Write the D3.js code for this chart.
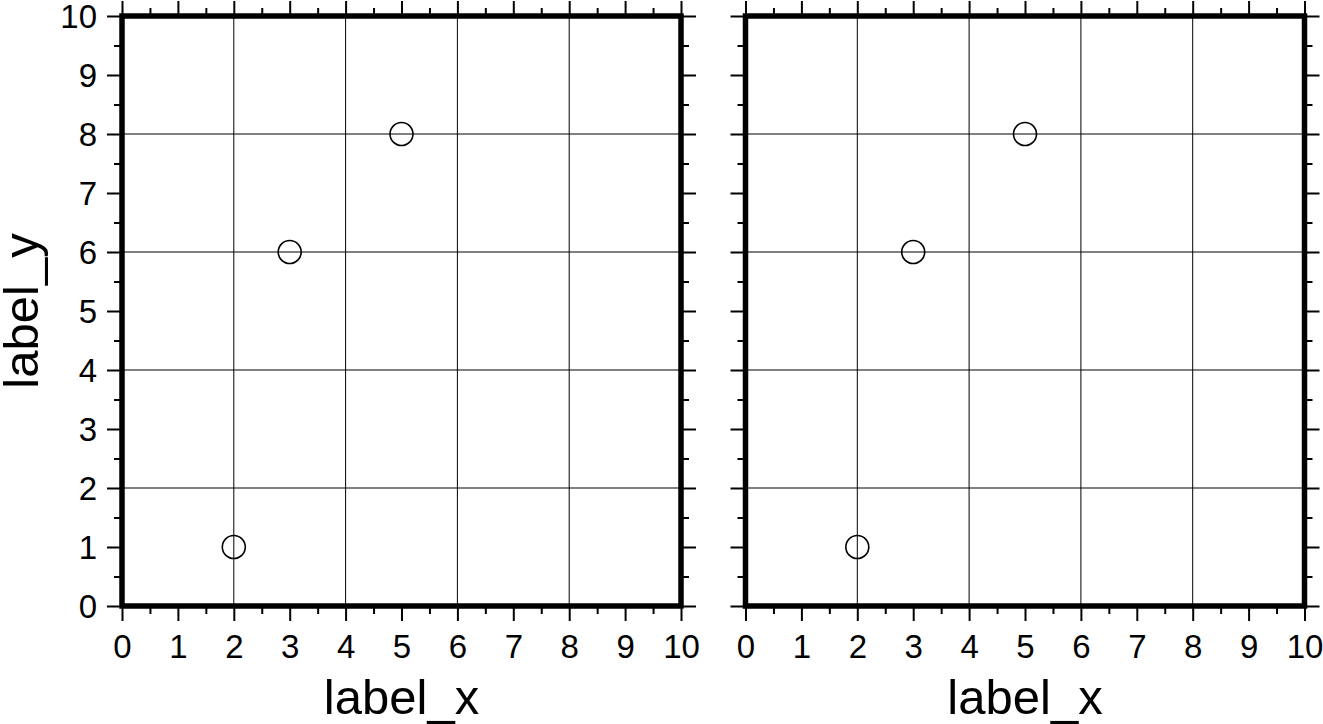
<!DOCTYPE html>
<html lang="en">
<head>
    <meta charset="UTF-8">
    <title>Subplots</title>
    <script src="https://d3js.org/d3.v7.min.js"></script>
    <style>
        body { margin: 0; background: #fff; }
        text { font-family: "Liberation Sans", Helvetica, Arial, sans-serif; fill: #000; }
    </style>
</head>
<body>
<div id="chart"></div>
<script>
    // data points (same in both panels)
    var xValues = [2, 3, 5];
    var yValues = [1, 6, 8];
    var majorTicks = [0, 1, 2, 3, 4, 5, 6, 7, 8, 9, 10];
    var minorTicks = [0.5, 1.5, 2.5, 3.5, 4.5, 5.5, 6.5, 7.5, 8.5, 9.5];
    var gridTicks = [2, 4, 6, 8];
    var xLabel = "label_x";
    var yLabel = "label_y";

    var W = 1323, H = 724;
    var panelW = 559, panelH = 590, panelTop = 16;
    var panels = [{left: 122, yLabels: true}, {left: 745.5, yLabels: false}];

    var svg = d3.select("#chart").append("svg")
        .attr("width", W).attr("height", H);

    var x = d3.scaleLinear().domain([0, 10]).range([0, panelW]);
    var y = d3.scaleLinear().domain([0, 10]).range([panelH, 0]);

    function styleAxis(g, width) {
        g.select(".domain").remove();
        g.selectAll(".tick line").attr("stroke", "#000").attr("stroke-width", width);
    }

    panels.forEach(function(p) {
        var g = svg.append("g").attr("transform", "translate(" + p.left + "," + panelTop + ")");

        // grid lines
        g.selectAll(".gx").data(gridTicks).enter().append("line")
            .attr("x1", function(d) { return x(d); }).attr("x2", function(d) { return x(d); })
            .attr("y1", 0).attr("y2", panelH)
            .attr("stroke", "#000").attr("stroke-width", 1);
        g.selectAll(".gy").data(gridTicks).enter().append("line")
            .attr("y1", function(d) { return y(d); }).attr("y2", function(d) { return y(d); })
            .attr("x1", 0).attr("x2", panelW)
            .attr("stroke", "#000").attr("stroke-width", 1);

        // points
        g.selectAll("circle").data(xValues).enter().append("circle")
            .attr("cx", function(d) { return x(d); })
            .attr("cy", function(d, i) { return y(yValues[i]); })
            .attr("r", 11.5)
            .attr("fill", "none").attr("stroke", "#000").attr("stroke-width", 1.6);

        // minor ticks on all four sides
        var minorSize = 8, majorSize = 15;
        g.append("g").attr("transform", "translate(0," + panelH + ")")
            .call(d3.axisBottom(x).tickValues(minorTicks).tickSize(minorSize).tickFormat(""))
            .call(styleAxis, 2);
        g.append("g")
            .call(d3.axisTop(x).tickValues(minorTicks).tickSize(minorSize).tickFormat(""))
            .call(styleAxis, 2);
        g.append("g")
            .call(d3.axisLeft(y).tickValues(minorTicks).tickSize(minorSize).tickFormat(""))
            .call(styleAxis, 2);
        g.append("g").attr("transform", "translate(" + panelW + ",0)")
            .call(d3.axisRight(y).tickValues(minorTicks).tickSize(minorSize).tickFormat(""))
            .call(styleAxis, 2);

        // major ticks
        var bottomAxis = g.append("g").attr("transform", "translate(0," + panelH + ")")
            .call(d3.axisBottom(x).tickValues(majorTicks).tickSize(majorSize).tickFormat(d3.format("d")))
            .call(styleAxis, 2);
        bottomAxis.selectAll("text")
            .attr("y", 52).attr("dy", 0)
            .style("font-size", "33px");
        g.append("g")
            .call(d3.axisTop(x).tickValues(majorTicks).tickSize(majorSize).tickFormat(""))
            .call(styleAxis, 2);
        var leftAxis = g.append("g")
            .call(d3.axisLeft(y).tickValues(majorTicks).tickSize(majorSize)
                .tickFormat(p.yLabels ? d3.format("d") : ""))
            .call(styleAxis, 2);
        leftAxis.selectAll("text")
            .attr("x", -25).attr("dy", "0.36em")
            .style("font-size", "33px");
        g.append("g").attr("transform", "translate(" + panelW + ",0)")
            .call(d3.axisRight(y).tickValues(majorTicks).tickSize(majorSize).tickFormat(""))
            .call(styleAxis, 2);

        // frame
        g.append("rect")
            .attr("x", 0).attr("y", 0)
            .attr("width", panelW).attr("height", panelH)
            .attr("fill", "none").attr("stroke", "#000").attr("stroke-width", 5.5);

        // axis labels
        g.append("text")
            .attr("x", panelW / 2).attr("y", 698)
            .attr("text-anchor", "middle")
            .style("font-size", "49px")
            .text(xLabel);
        if (p.yLabels) {
            g.append("text")
                .attr("transform", "translate(" + (38 - p.left) + "," + (panelH / 2) + ") rotate(-90)")
                .attr("text-anchor", "middle")
                .style("font-size", "49px")
                .text(yLabel);
        }
    });
</script>
</body>
</html>
